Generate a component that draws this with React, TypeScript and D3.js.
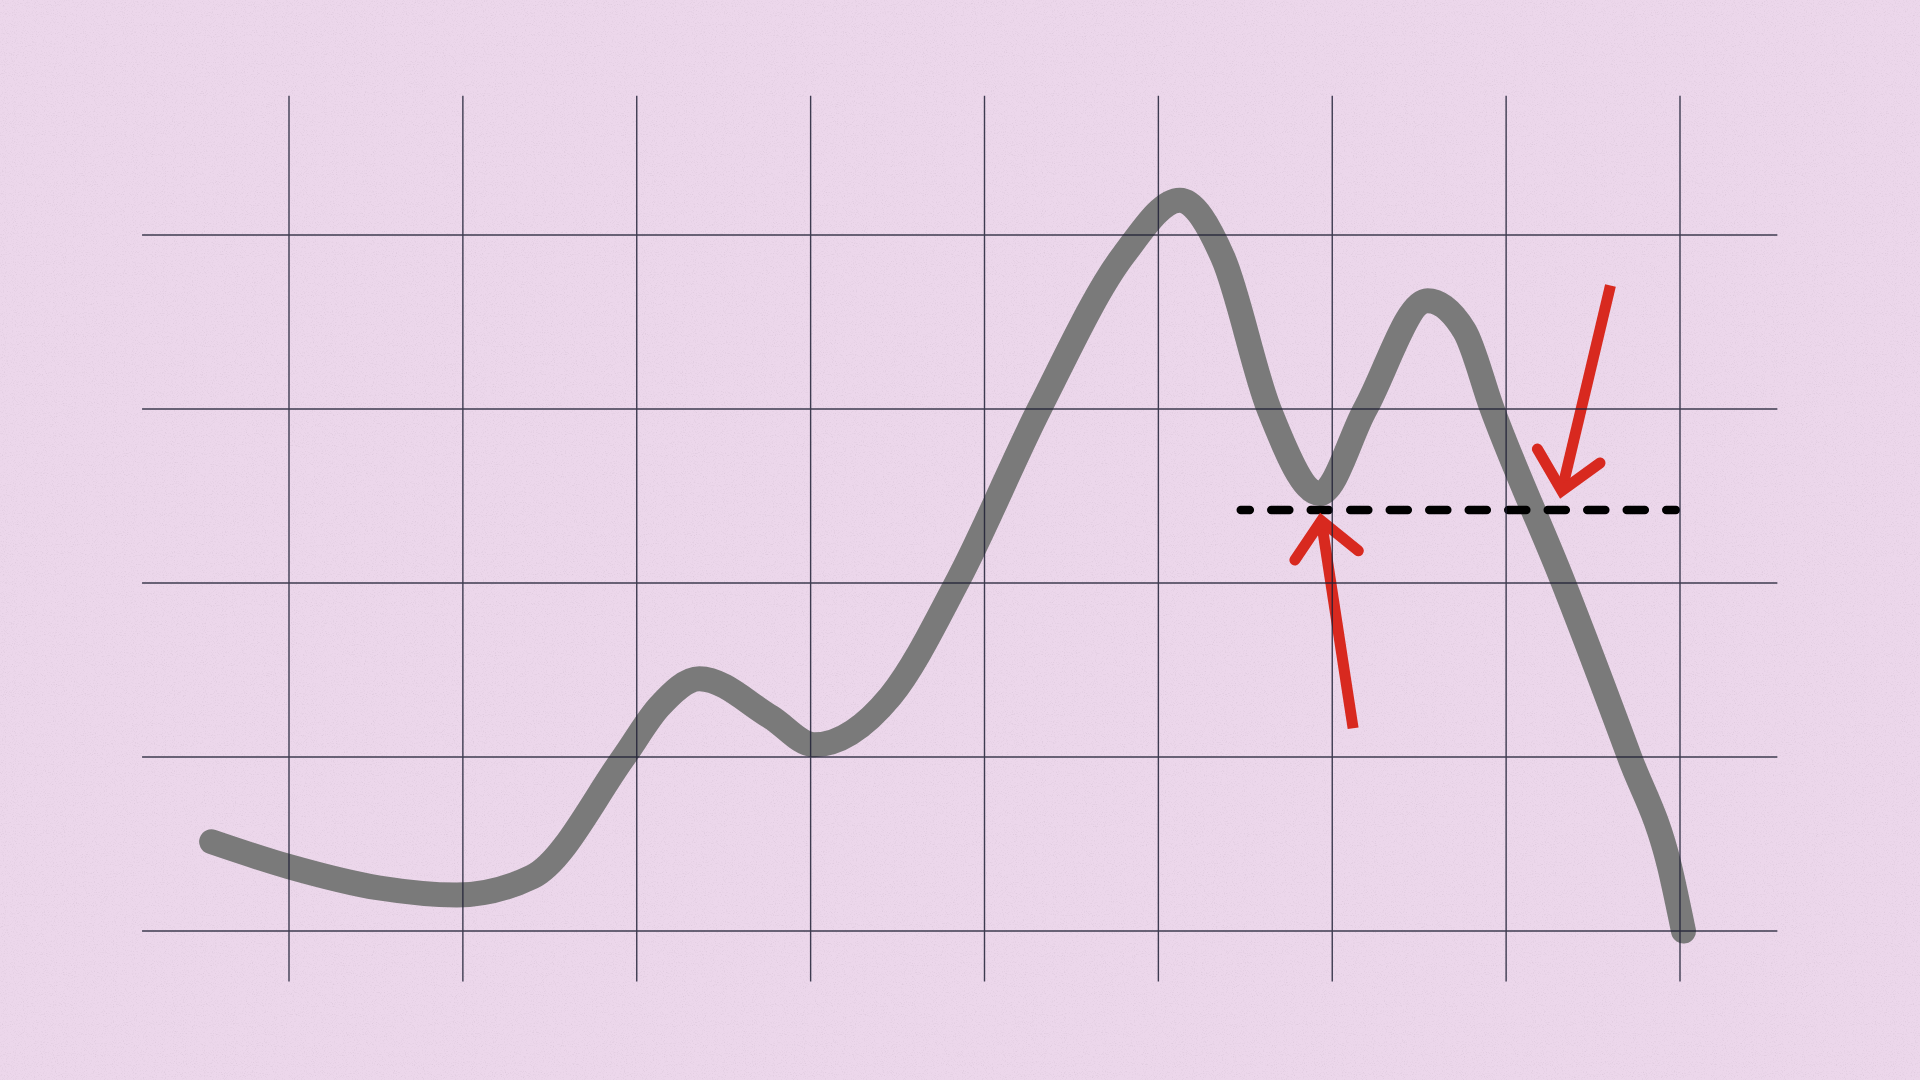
import React, { useEffect, useRef } from 'react'
import * as d3 from 'd3'

// grid positions in chart units
const gridX = [0, 1, 2, 3, 4, 5, 6, 7, 8]
const gridY = [0, 1, 2, 3, 4]

// the hand drawn curve (x in column units, y in row units)
const curveX = [-0.445, 0.0, 0.52, 0.964, 1.4, 1.926, 2.13, 2.36, 2.77, 3.02, 3.46, 3.85, 4.32, 4.8, 5.124, 5.373, 5.636, 5.929, 6.19, 6.548, 6.76, 6.92, 7.33, 7.71, 7.94, 8.02]
const curveY = [0.513, 0.37, 0.247, 0.207, 0.312, 1.0, 1.29, 1.45, 1.23, 1.07, 1.35, 2.02, 3.01, 3.885, 4.2, 3.866, 3.0, 2.515, 3.0, 3.622, 3.45, 3.0, 2.0, 1.0, 0.37, 0.0]

// dashed threshold line
const thresholdValue = 2.42
const thresholdRange = [5.474, 7.976]

// red arrows: tail, tip, left head, right head
const arrows: [number, number][][] = [
  [[6.12, 1.165], [5.937, 2.358], [5.785, 2.132], [6.15, 2.185]],
  [[7.6, 3.71], [7.32, 2.53], [7.18, 2.77], [7.54, 2.69]],
]

const width = 1920
const height = 1080

const App: React.FC = () => {
  const svgRef = useRef<SVGSVGElement | null>(null)

  useEffect(() => {
    if (!svgRef.current) return
    const svg = d3.select(svgRef.current)
    svg.selectAll('*').remove()

    const x = d3.scaleLinear().domain([0, 8]).range([289, 1680])
    const y = d3.scaleLinear().domain([0, 4]).range([931, 235])

    // paper texture
    const defs = svg.append('defs')
    const f = defs.append('filter').attr('id', 'grain').attr('x', 0).attr('y', 0).attr('width', '100%').attr('height', '100%')
    f.append('feTurbulence').attr('type', 'fractalNoise').attr('baseFrequency', 0.9).attr('numOctaves', 2).attr('seed', 3)
    f.append('feColorMatrix').attr('type', 'matrix')
      .attr('values', '0 0 0 0 0.45  0 0 0 0 0.35  0 0 0 0 0.45  0 0 0 -1.6 0.75')

    svg.append('rect').attr('width', width).attr('height', height).attr('fill', '#ecd7eb')
    svg.append('rect').attr('width', width).attr('height', height).attr('filter', 'url(#grain)').attr('opacity', 0.4)

    // curve
    const pts: [number, number][] = curveX.map((v, i) => [v, curveY[i]])
    const line = d3.line<[number, number]>()
      .x(d => x(d[0]))
      .y(d => y(d[1]))
      .curve(d3.curveMonotoneX)
    svg.append('path').datum(pts).attr('d', line)
      .attr('fill', 'none').attr('stroke', '#7a7a7a')
      .attr('stroke-width', 25).attr('stroke-linecap', 'round').attr('stroke-linejoin', 'round')

    // threshold
    svg.append('line')
      .attr('x1', x(thresholdRange[0])).attr('x2', x(thresholdRange[1]))
      .attr('y1', y(thresholdValue)).attr('y2', y(thresholdValue))
      .attr('stroke', '#000').attr('stroke-width', 8.5)
      .attr('stroke-linecap', 'round').attr('stroke-dasharray', '18 21.5')
      .attr('stroke-dashoffset', 9)

    // arrows
    const ag = svg.append('g').attr('stroke', '#d8291f').attr('stroke-width', 11).attr('fill', 'none')
    arrows.forEach(a => {
      ag.append('line').attr('stroke-linecap', 'butt')
        .attr('x1', x(a[0][0])).attr('y1', y(a[0][1])).attr('x2', x(a[1][0])).attr('y2', y(a[1][1]))
      ag.append('polyline').attr('stroke-linejoin', 'miter').attr('stroke-linecap', 'round')
        .attr('points', [a[2], a[1], a[3]].map(p => `${x(p[0])},${y(p[1])}`).join(' '))
    })

    // grid sits on top of the marks, like a printed overlay
    const grid = svg.append('g').attr('stroke', '#1f2035').attr('stroke-width', 1.4).attr('opacity', 0.85)
    grid.selectAll('line.v').data(gridX).join('line').attr('class', 'v')
      .attr('x1', d => x(d)).attr('x2', d => x(d))
      .attr('y1', y(4.8)).attr('y2', y(-0.29))
    grid.selectAll('line.h').data(gridY).join('line').attr('class', 'h')
      .attr('y1', d => y(d)).attr('y2', d => y(d))
      .attr('x1', x(-0.845)).attr('x2', x(8.56))
  }, [])

  return (
    <svg ref={svgRef} width={width} height={height}
      style={{ position: 'absolute', left: 0, top: 0, display: 'block' }} />
  )
}

export default App
